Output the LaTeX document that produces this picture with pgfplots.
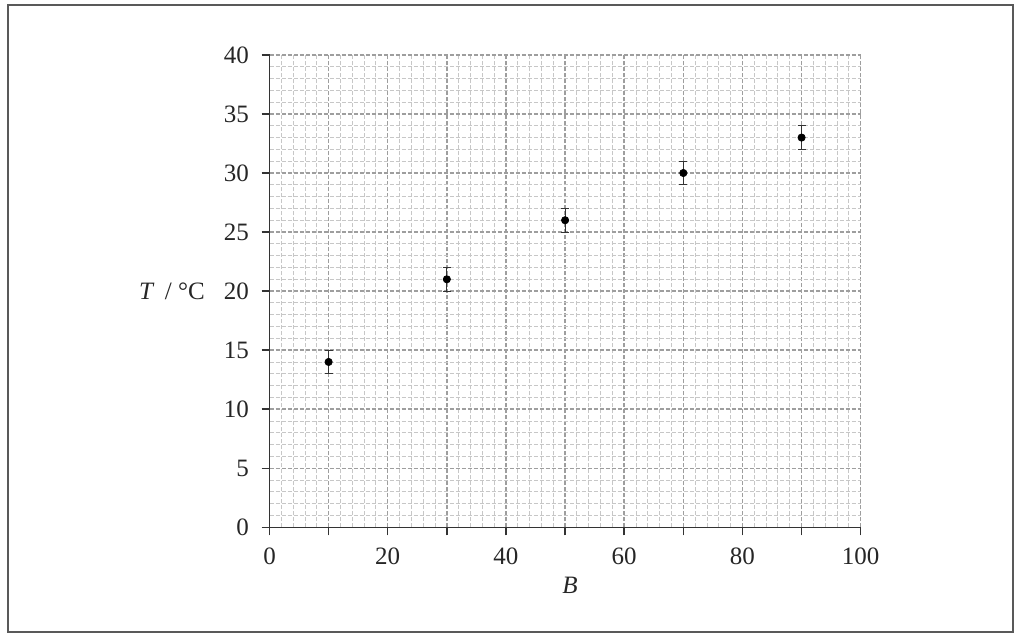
\documentclass[border=0pt]{standalone}
\usepackage{fontspec}
\setmainfont{Liberation Serif}
\usepackage{pgfplots}
\pgfplotsset{compat=1.18}

% 1 px of the reference = 0.5pt
\def\px{0.5pt}

\begin{document}
\fontsize{12.5}{15}\selectfont
\begin{tikzpicture}[x=\px,y=\px]
\useasboundingbox (-269.5,-115.7) rectangle (752.5,527.3);
\draw[black!65, line width=0.8pt] (-261.5,-104.7) rectangle (743.5,522.3);

\begin{axis}[
    at={(0,0)}, anchor=south west,
    scale only axis,
    width=295.6pt, height=236.2pt,
    xmin=0, xmax=100, ymin=0, ymax=40,
    axis lines=left,
    axis line style={-, black!80, line width=0.75pt},
    xtick={0,10,...,100},
    xticklabels={0,,20,,40,,60,,80,,100},
    ytick={0,5,...,40},
    minor x tick num=4,
    minor y tick num=4,
    tick align=outside,
    major tick length=4pt,
    minor tick length=0pt,
    tick style={black!80, line width=0.75pt},
    grid=both,
    major grid style={black!38, dash pattern=on 2pt off 1pt, line width=0.75pt},
    minor grid style={black!22, dash pattern=on 2pt off 1pt, line width=0.45pt},
    /pgf/number format/assume math mode=true,
    ticklabel style={font=\fontsize{12.5}{15}\selectfont, text=black!85},
    xticklabel style={yshift=-2pt},
    yticklabel style={xshift=-2pt},
    clip=false,
]
\addplot[black, only marks, mark=*, mark size=1.8pt,
    error bars/.cd, y dir=both, y explicit,
    error bar style={black!80, line width=0.5pt},
    error mark options={rotate=90, mark size=2pt, black!80, line width=0.5pt}]
  coordinates {
    (10,14) +- (0,1)
    (30,21) +- (0,1)
    (50,26) +- (0,1)
    (70,30) +- (0,1)
    (90,33) +- (0,1)
  };
\end{axis}

\node[text=black!85] at (-97.5,236.3) {\textit{T}\, / °C};
\node[text=black!85] at (300.5,-57.7) {\textit{B}};
\end{tikzpicture}
\end{document}
